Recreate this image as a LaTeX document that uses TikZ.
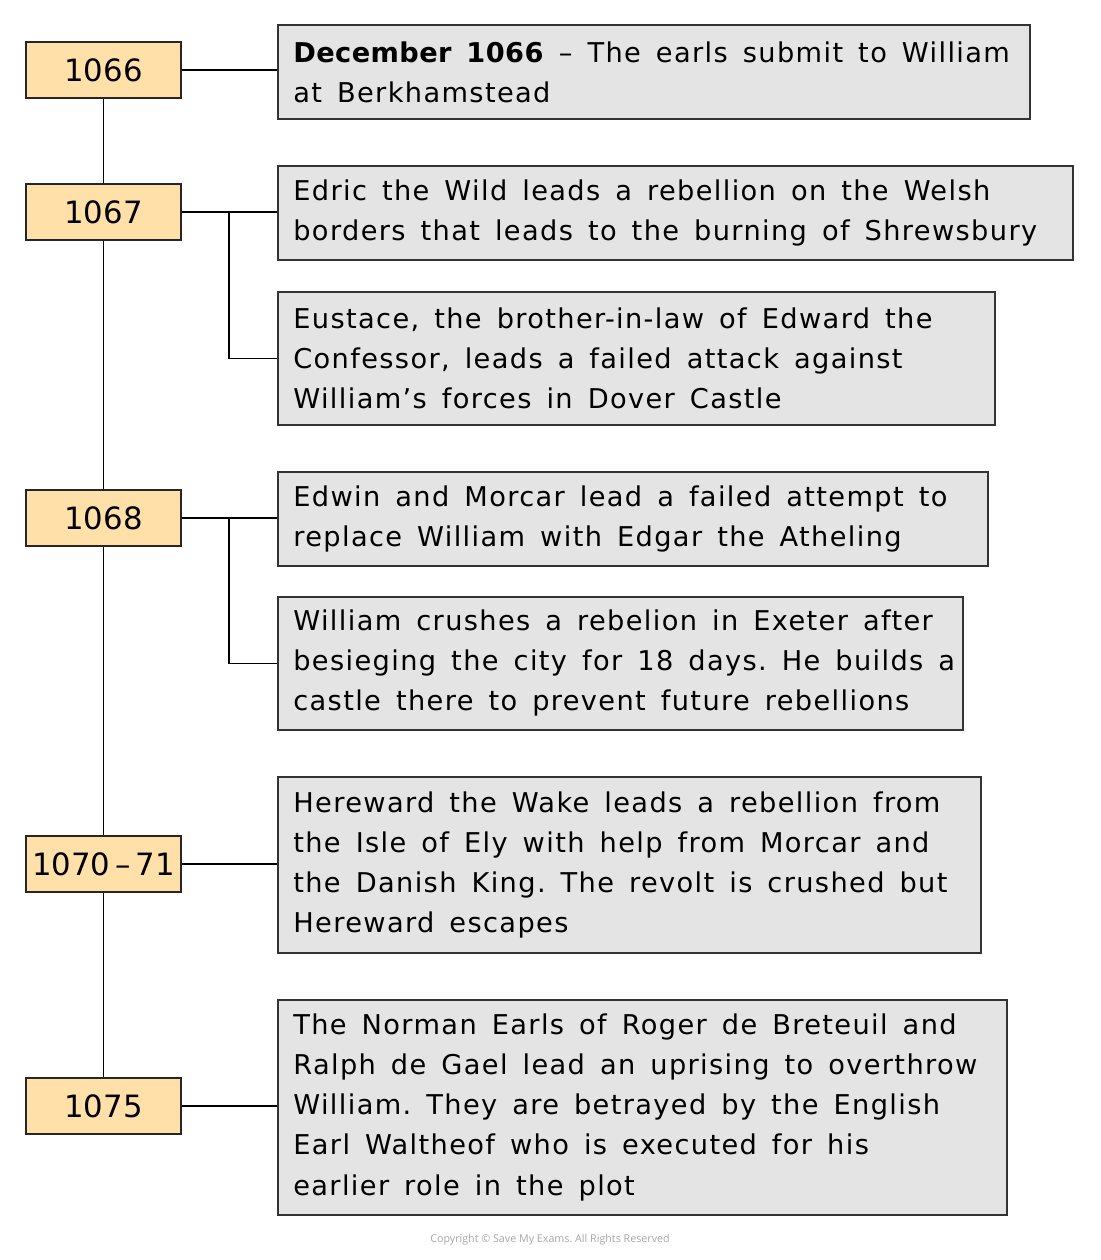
\documentclass[tikz,border=0pt]{standalone}
\usepackage{fontspec}
\setmainfont{DejaVu Sans}
\newfontfamily\copyfont{Open Sans}
\newfontfamily\eventfont[LetterSpace=5,WordSpace=1.5,BoldFeatures={LetterSpace=1.5}]{DejaVu Sans}
\usetikzlibrary{positioning}
\definecolor{yearfill}{HTML}{FFE0A8}
\definecolor{eventfill}{HTML}{E4E4E4}
\frenchspacing
\begin{document}
\begin{tikzpicture}[x=0.02cm,y=-0.02cm,
  year/.style={draw=black!85, line width=1.15pt, fill=yearfill, minimum width=3.1cm, minimum height=1.12cm, inner sep=0pt, font=\fontsize{17.5}{20}\selectfont},
  event/.style={draw=black!80, line width=1.05pt, fill=eventfill, anchor=north west, inner sep=0pt},
  eventtext/.style={align=left, inner sep=0pt, font=\eventfont\fontsize{15.5}{22.8}\selectfont},
  link/.style={line width=0.85pt}]
\useasboundingbox (0,0) rectangle (1100,1260);

\node[year] (y1066) at (103.5,70) {1066};
\node[year] (y1067) at (103.5,212) {1067};
\node[year] (y1068) at (103.5,518) {1068};
\node[year] (y1070) at (103.5,864) {1070\,--\,71};
\node[year] (y1075) at (103.5,1106) {1075};

\node[event, minimum width=15.04cm, minimum height=1.88cm] (e1) at (277,24) {};
\node[event, minimum width=15.9cm, minimum height=1.88cm] (e2) at (277,165) {};
\node[event, minimum width=14.34cm, minimum height=2.66cm] (e3) at (277,291) {};
\node[event, minimum width=14.2cm, minimum height=1.88cm] (e4) at (277,471) {};
\node[event, minimum width=13.7cm, minimum height=2.66cm] (e5) at (277,596) {};
\node[event, minimum width=14.06cm, minimum height=3.52cm] (e6) at (277,776) {};
\node[event, minimum width=14.58cm, minimum height=4.3cm] (e7) at (277,999) {};

\node[eventtext, right=0.32cm of e1.west] (t1) {\textbf{December 1066} – The earls submit to William\\at Berkhamstead};
\node[eventtext, right=0.32cm of e2.west] (t2) {Edric the Wild leads a rebellion on the Welsh\\borders that leads to the burning of Shrewsbury};
\node[eventtext, right=0.32cm of e3.west] (t3) {Eustace, the brother-in-law of Edward the\\Confessor, leads a failed attack against\\William’s forces in Dover Castle};
\node[eventtext, right=0.32cm of e4.west] (t4) {Edwin and Morcar lead a failed attempt to\\replace William with Edgar the Atheling};
\node[eventtext, right=0.32cm of e5.west] (t5) {William crushes a rebelion in Exeter after\\besieging the city for 18 days. He builds a\\castle there to prevent future rebellions};
\node[eventtext, right=0.32cm of e6.west] (t6) {Hereward the Wake leads a rebellion from\\the Isle of Ely with help from Morcar and\\the Danish King. The revolt is crushed but\\Hereward escapes};
\node[eventtext, right=0.32cm of e7.west] (t7) {The Norman Earls of Roger de Breteuil and\\Ralph de Gael lead an uprising to overthrow\\William. They are betrayed by the English\\Earl Waltheof who is executed for his\\earlier role in the plot};

\coordinate (b1067) at (229,212);
\coordinate (b1068) at (229,518);

\draw[link] (y1066) -- (y1067) -- (y1068) -- (y1070) -- (y1075);
\draw[link] (y1066.east) -- (y1066.east -| e1.west);
\draw[link] (y1067.east) -- (y1067.east -| e2.west);
\draw[link] (b1067) |- (e3.west);
\draw[link] (y1068.east) -- (y1068.east -| e4.west);
\draw[link] (b1068) |- (e5.west);
\draw[link] (y1070.east) -- (y1070.east -| e6.west);
\draw[link] (y1075.east) -- (y1075.east -| e7.west);

\node[text=gray!70, font=\copyfont\fontsize{6.1}{8}\selectfont] (copy) at (550,1240) {Copyright © Save My Exams. All Rights Reserved};
\end{tikzpicture}
\end{document}
